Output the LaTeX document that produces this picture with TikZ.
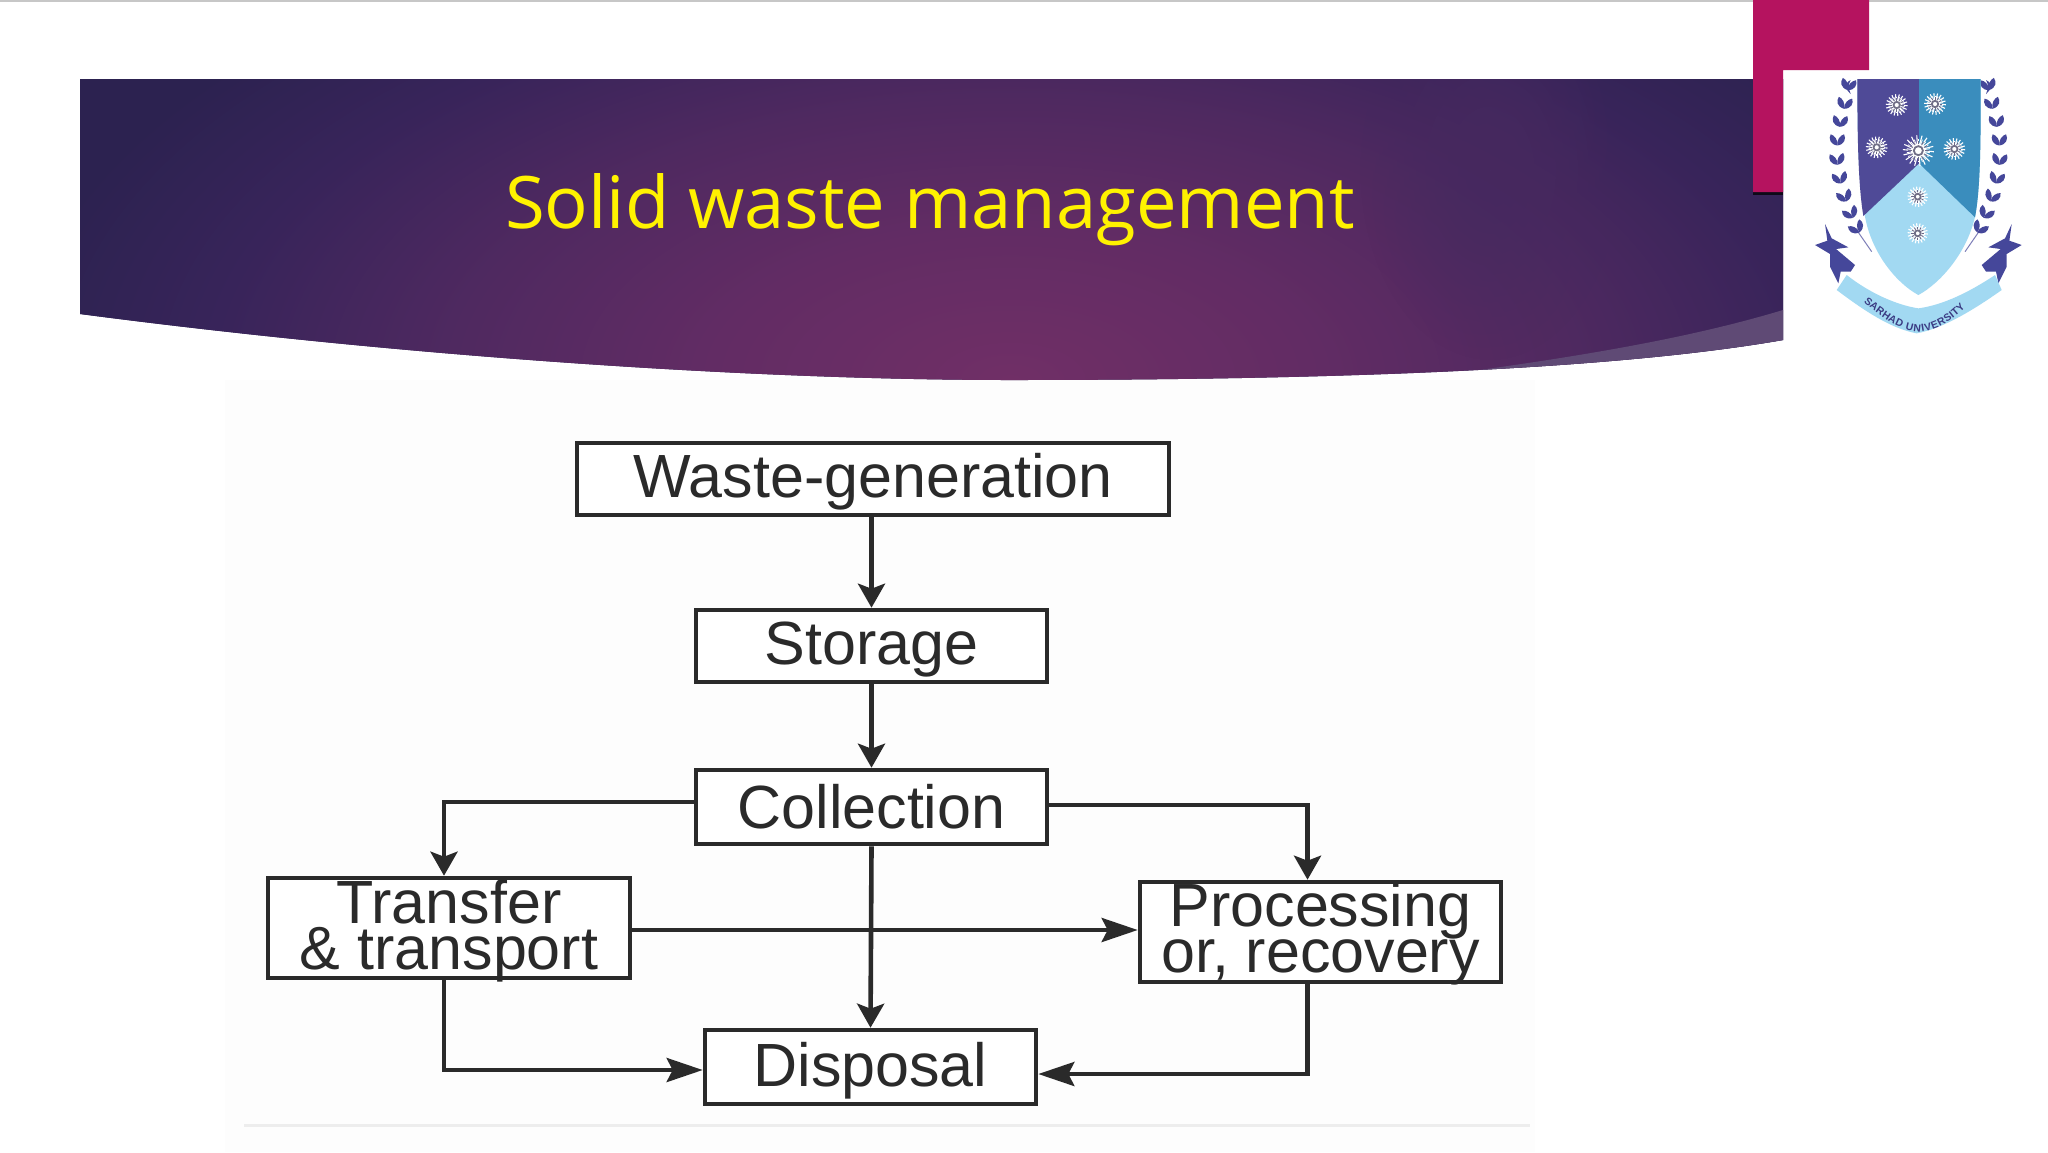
\documentclass[tikz,border=0pt]{standalone}
\usepackage{fontspec}
\setmainfont{Liberation Sans}
\newfontfamily\titlefont{Open Sans}
\usetikzlibrary{arrows.meta,calc,fadings,decorations.text}
\definecolor{glowA}{HTML}{702F66}
\definecolor{glowB}{HTML}{622C64}
\definecolor{glowC}{HTML}{4F2960}
\definecolor{glowD}{HTML}{38245A}
\definecolor{glowE}{HTML}{2C2250}
\definecolor{patchc}{HTML}{46295F}
\definecolor{sliver}{HTML}{5F4A75}
\definecolor{accent}{HTML}{B5135F}
\definecolor{inkc}{HTML}{2A2A2A}
\definecolor{shieldL}{HTML}{4F4A97}
\definecolor{shieldR}{HTML}{3A8DBD}
\definecolor{shieldC}{HTML}{A2D9F2}
\definecolor{laurel}{HTML}{45479A}
\pgfdeclareradialshading{bannerglow}{\pgfpoint{0bp}{0bp}}{color(0bp)=(glowA);color(7.5bp)=(glowB);color(14bp)=(glowC);color(20bp)=(glowD);color(25bp)=(glowE);color(50bp)=(glowE)}
\tikzfading[name=softglow,inner color=transparent!0,outer color=transparent!100]
\tikzset{
  flowbox/.style={draw=inkc,line width=2.3pt,fill=white,inner sep=0pt,align=center,
    text=inkc,font=\fontsize{30.5}{23}\selectfont},
  flowtwo/.style={flowbox,inner ysep=-5pt},
  flowline/.style={draw=inkc,line width=2.3pt},
  flowdown/.style={flowline,-{Stealth[length=12pt,width=13.5pt,inset=2.5pt]}},
  flowside/.style={flowline,-{Stealth[length=18pt,width=12pt,inset=3pt]}},
  leafc/.style={fill=laurel},
}
\newcommand{\sunburst}[3]{%
  \begin{scope}[shift={(#1,#2)},scale=#3]
    \foreach \k in {0,20,...,340}{
      \draw[white,line width=0.55pt] (\k:9) -- (\k+4:29);
      \draw[white,line width=0.4pt] (\k+10:8) -- (\k+10:22);
    }
    \fill[white] (0,0) circle (14);
    \draw[gray!70!shieldL,line width=0.9pt] (0,0) circle (8.5);
    \foreach \k in {0,30,...,330}{\draw[gray!60!shieldL,line width=0.45pt] (\k:12) -- (\k:19);}
  \end{scope}}
\newcommand{\laurelside}{%
  \draw[laurel!70,line width=0.5pt] (470,690) -- (515,755);
  \foreach \x/\y/\a in {444/262/-10,433/318/-8,420/372/-4,412/428/0,412/486/6,421/542/12,436/596/20,455/646/26,474/690/32}{
    \begin{scope}[shift={(\x,\y)},rotate=\a,scale=0.84]
      \fill[leafc] (0,10) .. controls (-26,6) and (-32,-14) .. (-24,-30) .. controls (-10,-26) and (3,-10) .. (0,10);
      \fill[leafc] (0,10) .. controls (26,6) and (32,-14) .. (24,-30) .. controls (10,-26) and (-3,-10) .. (0,10);
    \end{scope}}
  \fill[leafc] (452,240) .. controls (430,250) and (438,272) .. (452,282) .. controls (446,268) and (444,252) .. (452,240);
  \fill[leafc] (375,672) -- (395,715) -- (445,742) -- (408,747) -- (465,795) -- (452,815) -- (422,815) -- (415,850) -- (390,800) -- (390,762) -- (345,735) -- (382,722) -- cycle;
}
\begin{document}
\begin{tikzpicture}[x=0.5pt,y=-0.5pt]
\useasboundingbox (0,0) rectangle (2048,1152);
\fill[white] (0,0) rectangle (2048,1152);
\fill[black!22] (0,0) rectangle (2048,1.5);
\fill[black!0.6] (225,380) rectangle (1535,1152);
% banner
\begin{scope}
  \clip (80,79) -- (1783,79) -- (1783,340) .. controls (1600,372) and (1300,380) .. (1010,380) .. controls (750,380) and (400,356) .. (80,314) -- cycle;
  \fill[glowE] (0,0) rectangle (1800,400);
  \shade[shading=bannerglow] (1010,380) ellipse (1000 and 500);
  \fill[patchc,path fading=softglow] (1490,170) ellipse (130 and 190);
  \fill[sliver] (1450,374) .. controls (1600,354) and (1700,335) .. (1783,310) -- (1783,345) -- (1450,385) -- cycle;
\end{scope}
\node[text=yellow,font=\titlefont\fontsize{36.2}{40}\selectfont,anchor=base] (title) at (930,228) {Solid waste management};
% accent
\fill[black!70!glowE] (1753,192) rectangle (1783,195);
\fill[accent] (1753,0) -- (1869,0) -- (1869,70) -- (1783,70) -- (1783,192) -- (1753,192) -- cycle;
% logo
\begin{scope}[shift={(1700,0)},x=0.16667pt,y=-0.16667pt]
  \laurelside
  \begin{scope}[shift={(1310,0)},xscale=-1]\laurelside\end{scope}
  \fill[shieldC] (472,237) -- (842,237) .. controls (842,420) and (842,560) .. (825,650) .. controls (800,760) and (720,850) .. (655,885) .. controls (590,850) and (515,760) .. (495,650) .. controls (475,560) and (472,420) .. (472,237) -- cycle;
  \fill[shieldL] (472,237) -- (657,237) -- (657,490) -- (490,648) .. controls (475,560) and (472,420) .. (472,237) -- cycle;
  \fill[shieldR] (842,237) -- (657,237) -- (657,490) -- (825,652) .. controls (842,560) and (842,420) .. (842,237) -- cycle;
  \sunburst{590}{315}{1.12}
  \sunburst{705}{312}{1.12}
  \sunburst{530}{442}{1.12}
  \sunburst{655}{452}{1.6}
  \sunburst{763}{447}{1.12}
  \sunburst{653}{590}{1.05}
  \sunburst{653}{700}{1.05}
  \fill[shieldC] (440,825) .. controls (510,880) and (590,915) .. (655,925) .. controls (730,915) and (810,875) .. (885,825) -- (905,870) .. controls (820,930) and (730,985) .. (650,1000) .. controls (570,985) and (490,930) .. (410,870) -- cycle;
  \path[decorate,decoration={text along path,text align=center,raise=-2.6pt,
    text={|\fontsize{5.2}{6}\selectfont\bfseries\color{laurel!85!black}|SARHAD UNIVERSITY}}]
    (470,870) .. controls (560,945) and (600,975) .. (655,980) .. controls (710,975) and (760,945) .. (810,880);
\end{scope}
% flow chart
\node[flowbox,minimum width=296pt,minimum height=36pt] (waste) at (873,479) {\rule{0pt}{24.8pt}Waste-generation};
\node[flowbox,minimum width=175.5pt,minimum height=36pt] (stor) at (871.5,646) {\rule{0pt}{24.8pt}Storage};
\node[flowbox,minimum width=175.5pt,minimum height=37pt] (coll) at (871.5,807) {Collection};
\node[flowtwo,minimum width=181pt,minimum height=50pt] (trans) at (449,928) {\rule{0pt}{25.3pt}Transfer\\\& transport};
\node[flowtwo,minimum width=180.5pt,minimum height=50pt] (proc) at (1320.5,932) {\rule{0pt}{24.3pt}Processing\\or, recovery};
\node[flowbox,minimum width=165.5pt,minimum height=37pt] (disp) at (870.5,1067) {\rule{0pt}{26.3pt}Disposal};
\draw[flowdown] (waste.south -| stor.center) -- (stor.north);
\draw[flowdown] (stor.south) -- (coll.north);
\draw[flowdown] (coll.south) -- (disp.north);
\draw[flowdown] ($(coll.west)+(0,-5)$) -| ($(trans.north)+(-5,0)$);
\draw[flowdown] ($(coll.east)+(0,-2)$) -| ($(proc.north)+(-13,0)$);
\coordinate (tp) at ($(trans.east)+(0,2)$);
\draw[flowside] (tp) -- (tp -| proc.west);
\draw[flowside] ($(trans.south)+(-5,0)$) |- ($(disp.west)+(0,3)$);
\draw[flowside] ($(proc.south)+(-13,0)$) |- ($(disp.east)+(0,7)$);
\fill[black!7] (244,1124) rectangle (1530,1127);
\end{tikzpicture}
\end{document}
